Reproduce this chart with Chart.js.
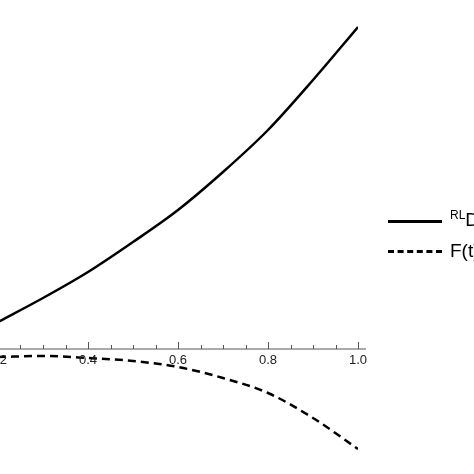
<!DOCTYPE html>
<html>
<head>
<meta charset="utf-8">
<script src="https://cdn.jsdelivr.net/npm/chart.js@4.4.0/dist/chart.umd.min.js"></script>
<style>
  body { margin: 0; background: #fff; overflow: hidden; width: 474px; height: 474px; position: relative; font-family: "Liberation Sans", Arial, sans-serif; }
  #wrap { position: absolute; left: -2px; top: 0; width: 476px; height: 474px; }
  .leg { position: absolute; left: 388px; font-size: 19px; color: #000; white-space: nowrap; }
  .leg .ln { display: inline-block; width: 54px; vertical-align: middle; margin-right: 8px; }
  sup { font-size: 12px; }
</style>
</head>
<body>
<div id="wrap"><canvas id="myChart" width="476" height="474"></canvas></div>
<div class="leg" style="top:208px"><span class="ln" style="border-top:3px solid #000"></span><sup>RL</sup>D<sup>α</sup>F(t)</div>
<div class="leg" style="top:240px"><span class="ln" style="border-top:3px dashed #000"></span>F(t)</div>
<script>
// data
var tValues = [0.2, 0.3, 0.4, 0.5, 0.6, 0.7, 0.8, 0.9, 1.0];
var derivValues = [0.27, 0.51, 0.77, 1.07, 1.39, 1.77, 2.19, 2.69, 3.22];
var fValues = [-0.08, -0.07, -0.09, -0.12, -0.18, -0.29, -0.44, -0.69, -1.00];
var majorTicks = [0.2, 0.4, 0.6, 0.8, 1.0];

function toPoints(ys) {
    return tValues.map(function (t, i) { return { x: t, y: ys[i] }; });
}

// draw tick marks pointing up from the axis line
var upTicks = {
    id: 'upTicks',
    afterDraw: function (chart) {
        var c = chart.ctx, xs = chart.scales.x, y0 = chart.scales.y.getPixelForValue(0);
        c.save();
        c.strokeStyle = '#555';
        c.lineWidth = 1;
        c.beginPath();
        c.moveTo(xs.left, y0); c.lineTo(xs.right + 8, y0);
        for (var v = 0.2; v <= 1.0001; v += 0.025) {
            var px = Math.round(xs.getPixelForValue(v)) + 0.5;
            var major = Math.abs(v * 10 / 2 - Math.round(v * 10 / 2)) < 0.01;
            var len = major ? 7 : (Math.abs(v * 20 - Math.round(v * 20)) < 0.01 ? 4 : 0);
            if (!len) continue;
            c.moveTo(px, y0); c.lineTo(px, y0 - len);
        }
        c.stroke();
        c.fillStyle = '#222';
        c.font = '13px "Liberation Sans", Arial, sans-serif';
        c.textAlign = 'center';
        c.textBaseline = 'top';
        majorTicks.forEach(function (v) {
            c.fillText(v.toFixed(1), xs.getPixelForValue(v), y0 + 5);
        });
        c.restore();
    }
};

var ctx = document.getElementById('myChart').getContext('2d');
var myChart = new Chart(ctx, {
    type: 'line',
    data: {
        datasets: [{
            label: 'RLD',
            data: toPoints(derivValues),
            borderColor: '#000',
            borderWidth: 2.5,
            pointRadius: 0,
            cubicInterpolationMode: 'monotone'
        }, {
            label: 'F(t)',
            data: toPoints(fValues),
            borderColor: '#000',
            borderWidth: 2.5,
            borderDash: [8, 5],
            pointRadius: 0,
            cubicInterpolationMode: 'monotone'
        }]
    },
    options: {
        responsive: false,
        animation: false,
        layout: { padding: { left: 0, right: 116, top: 0, bottom: 0 } },
        plugins: { legend: { display: false }, tooltip: { enabled: false } },
        scales: {
            x: { type: 'linear', min: 0.2, max: 1.0, display: false },
            y: { min: -1.25, max: 3.49, display: false }
        }
    },
    plugins: [upTicks]
});
</script>
</body>
</html>
